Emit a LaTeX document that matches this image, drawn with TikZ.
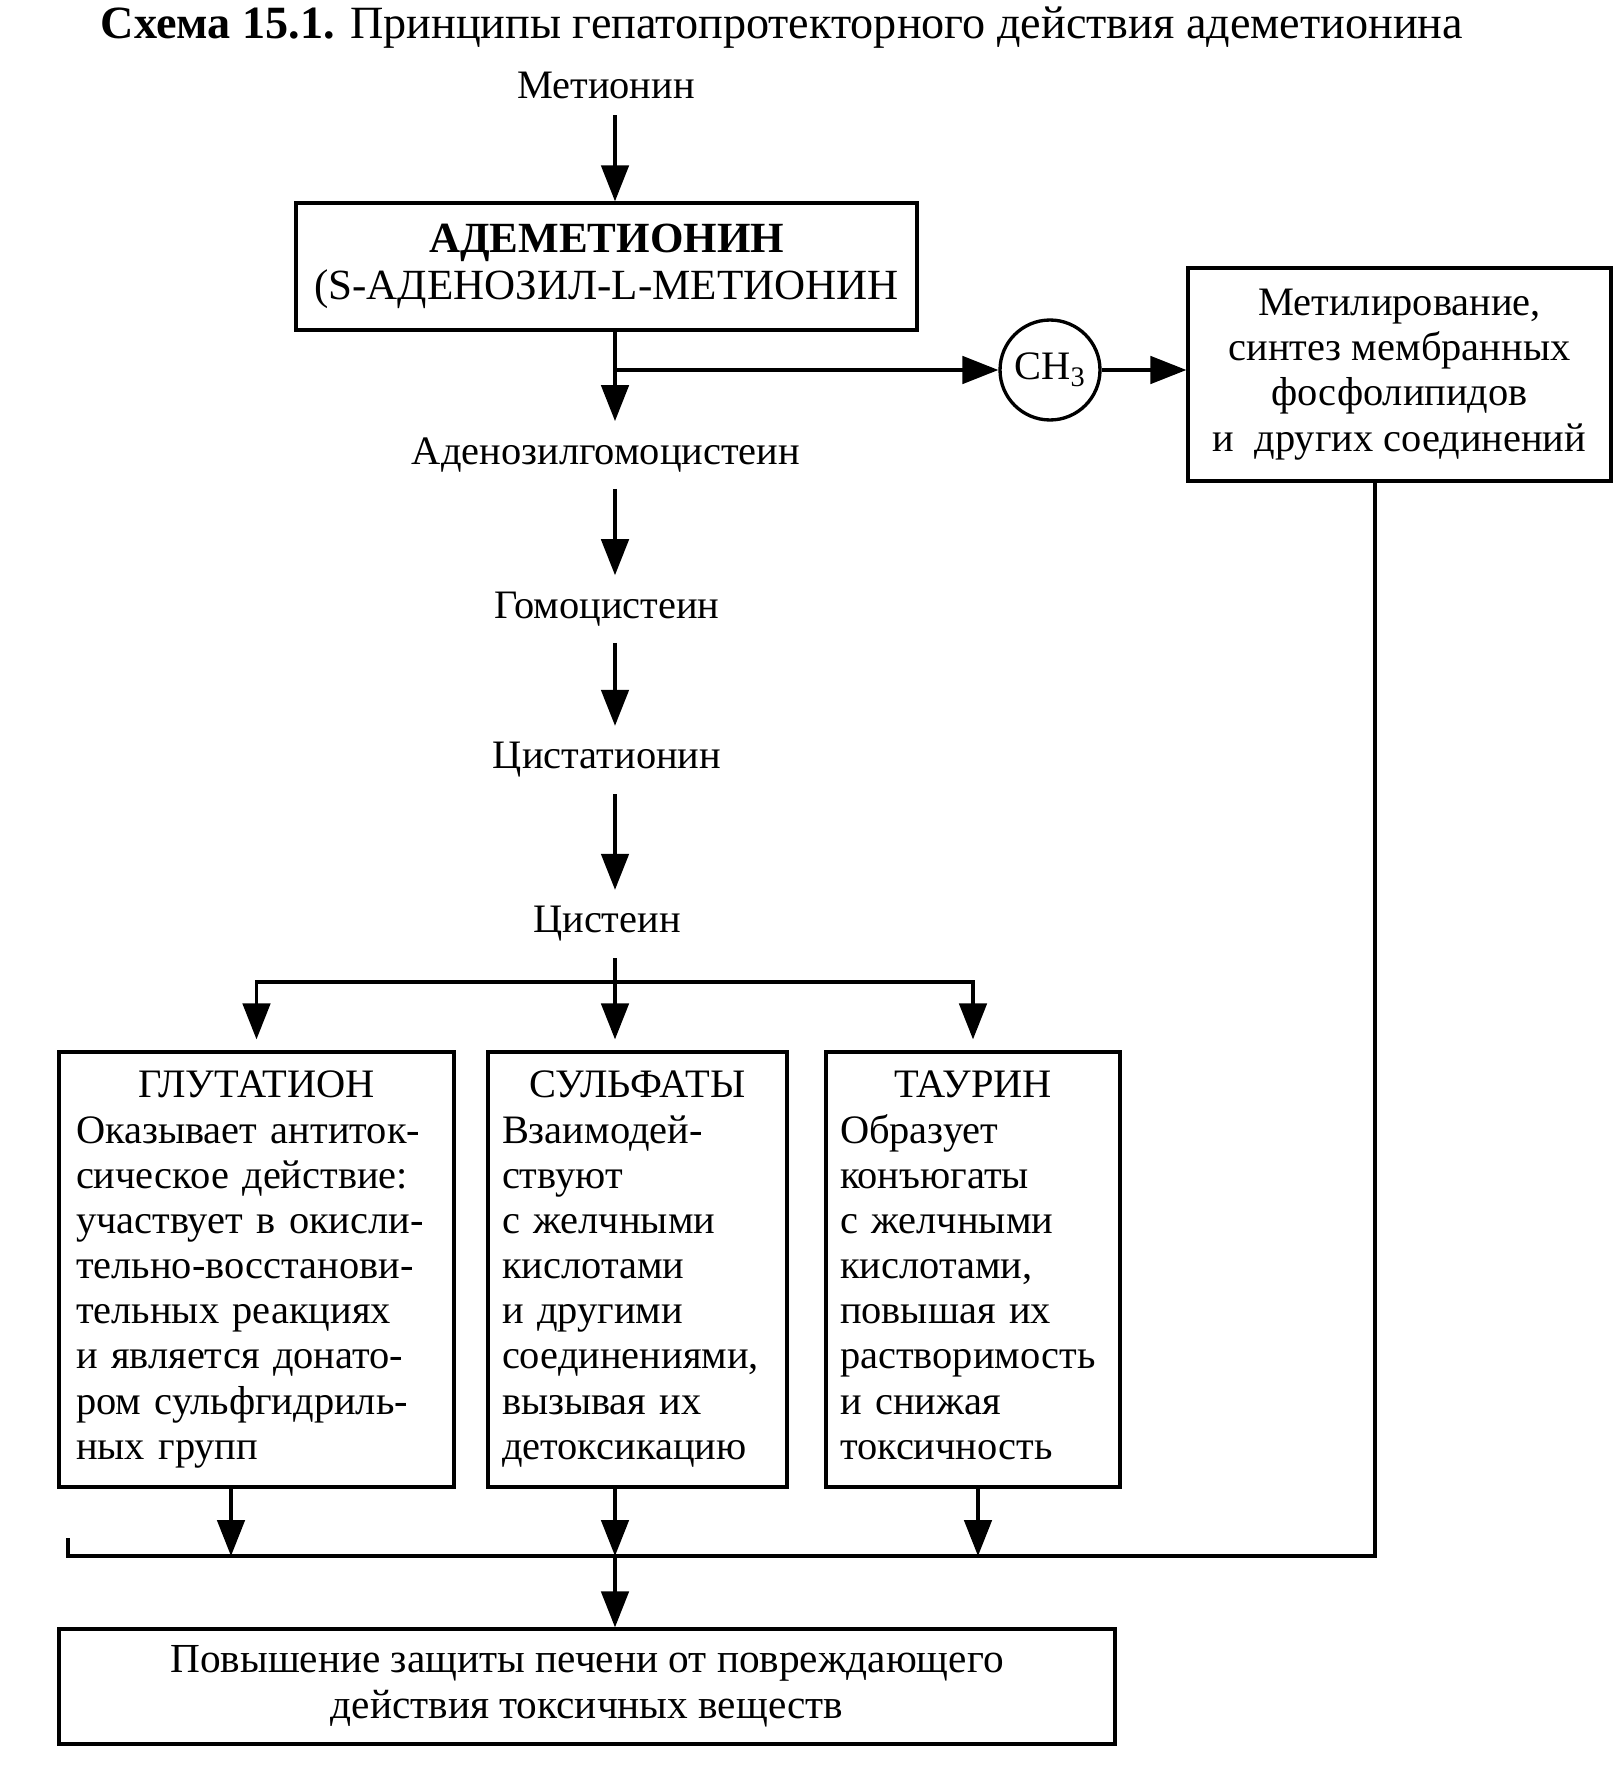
\documentclass[tikz,border=0pt]{standalone}
\usepackage{fontspec}
\setmainfont{Liberation Serif}
\usetikzlibrary{arrows.meta,positioning}

\begin{document}
\begin{tikzpicture}[
    x=0.02cm, y=-0.02cm,
    every node/.style={
      font=\fontsize{23}{25.7}\selectfont,
      inner sep=0pt
    },
    every path/.style={black,line width=1.9pt},
    lbl/.style={inner ysep=0.3cm},
    box/.style={draw,align=center,inner xsep=0.3cm},
    colbox/.style={draw,align=left,inner xsep=0.28cm,
      minimum height=8.7cm,text width=#1},
    arr/.style={-{Triangle[length=0.72cm,width=0.55cm]}}
  ]
    \useasboundingbox (0,0) rectangle (1618,1770);

    \node[anchor=west,font=\fontsize{26.3}{30}\selectfont] (title) at (99,28)
      {\textbf{Схема 15.1.} Принципы гепатопротекторного действия адеметионина};

    % main column
    \node[lbl] (met) at (606,85) {Метионин};
    \node[box,minimum width=12.42cm,minimum height=2.54cm,
      font=\fontsize{24.5}{26.5}\selectfont] (ademet) at (606.5,266.5)
      {\textbf{АДЕМЕТИОНИН}\\(S-АДЕНОЗИЛ-L-МЕТИОНИН};
    \node[lbl] (adeno) at (606,455) {Аденозилгомоцистеин};
    \node[lbl] (homo) at (607,609) {Гомоцистеин};
    \node[lbl] (cysta) at (607,760) {Цистатионин};
    \node[lbl] (cyst) at (607,924) {Цистеин};

    % methyl branch
    \node[draw,circle,minimum size=2cm] (ch3) at (1050,370) {CH\textsubscript{3}};
    \node[box,minimum width=8.46cm,minimum height=4.26cm] (meth) at (1399.5,374.5)
      {Метилирование,\\синтез мембранных\\фосфолипидов\\и\ \ других соединений};

    % three products
    \node[colbox=7.22cm,inner xsep=0.34cm] (glut) at (256.5,1269.5)
      {\hfill\strut ГЛУТАТИОН\hfill\null\\
       Оказывает антиток-\\
       сическое действие:\\
       участвует в окисли-\\
       тельно-восстанови-\\
       тельных реакциях\\
       и является донато-\\
       ром сульфгидриль-\\
       ных групп\strut};
    \node[colbox=5.42cm] (sulf) at (637.5,1269.5)
      {\hfill\strut СУЛЬФАТЫ\hfill\null\\
       Взаимодей-\\
       ствуют\\
       с желчными\\
       кислотами\\
       и другими\\
       соединениями,\\
       вызывая их\\
       детоксикацию\strut};
    \node[colbox=5.32cm] (taur) at (973,1269.5)
      {\hfill\strut ТАУРИН\hfill\null\\
       Образует\\
       конъюгаты\\
       с желчными\\
       кислотами,\\
       повышая их\\
       растворимость\\
       и снижая\\
       токсичность\strut};

    \node[box,minimum width=21.12cm,minimum height=2.3cm,
      font=\fontsize{23.5}{26}\selectfont] (final) at (587,1686.5)
      {Повышение защиты печени от повреждающего\\действия токсичных веществ};

    % connector points
    \coordinate (axis) at (615,0);
    \coordinate (br) at (615,370);
    \coordinate (split) at (615,982);
    \coordinate (railL) at (68,1556);
    \coordinate (railR) at (1375,1556);
    \coordinate (gOut) at (231,1556);
    \coordinate (sOut) at (615,1556);
    \coordinate (tOut) at (978,1556);

    \draw[arr] (met.south -| axis) -- (ademet.north -| axis);
    \draw[arr] (ademet.south -| axis) -- (adeno.north -| axis);
    \draw[arr] (br) -- (ch3);
    \draw[arr] (ch3.east) -- (ch3.east -| meth.west);
    \draw[arr] (adeno.south -| axis) -- (homo.north -| axis);
    \draw[arr] (homo.south -| axis) -- (cysta.north -| axis);
    \draw[arr] (cysta.south -| axis) -- (cyst.north -| axis);
    \draw (cyst.south -| axis) -- (split);
    \draw[arr,shorten >=0.22cm] (split) -| (glut.north);
    \draw[arr,shorten >=0.22cm] (split) -- (sulf.north -| axis);
    \draw[arr,shorten >=0.22cm] (split) -| (taur.north);
    \draw[arr] (glut.south -| gOut) -- (gOut);
    \draw[arr] (sulf.south -| sOut) -- (sOut);
    \draw[arr] (taur.south -| tOut) -- (tOut);
    \draw (meth.south -| railR) -- (railR) -- (railL) -- ++(0,-18);
    \draw[arr] (sOut) -- (final.north -| axis);
  \end{tikzpicture}
\end{document}
